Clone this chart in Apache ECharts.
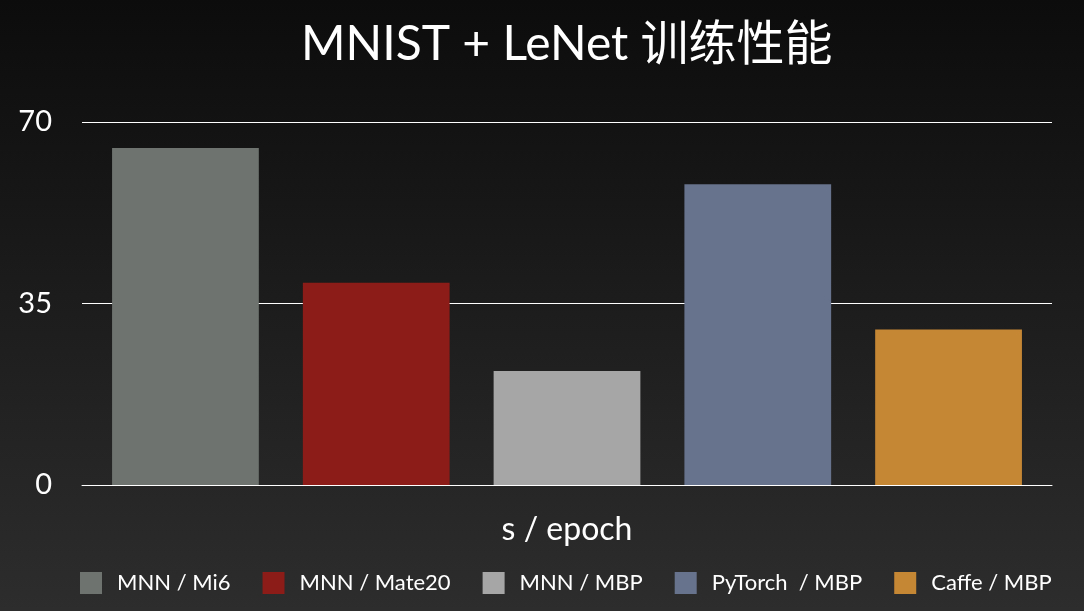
<!DOCTYPE html>
<html><head><meta charset="utf-8">
<script src="https://cdn.jsdelivr.net/npm/echarts@6/dist/echarts.min.js"></script>
<style>html,body{margin:0;padding:0;}#c{width:1084px;height:611px;}</style>
</head><body><div id="c"></div>
<script>
const categories = ['MNIST + LeNet'];
const seriesNames = ['MNN / Mi6', 'MNN / Mate20', 'MNN / MBP', 'PyTorch  / MBP', 'Caffe / MBP'];
const seriesValues = [65, 39, 22, 58, 30];
const colors = ['#6e7370', '#8b1c17', '#a6a6a6', '#67738c', '#c68735'];
const yTicks = [0, 35, 70];

const font = "Lato, 'Noto Sans CJK SC', sans-serif";
const chart = echarts.init(document.getElementById('c'));
chart.setOption({
  backgroundColor: new echarts.graphic.LinearGradient(0, 0, 0, 1, [
    {offset: 0, color: '#0c0c0c'}, {offset: 1, color: '#2d2d2d'}
  ]),
  title: {
    text: 'MNIST + LeNet 训练性能', left: 296, top: 16,
    textStyle: {color: '#ffffff', fontSize: 48, fontWeight: 'normal', fontFamily: font}
  },
  legend: {
    bottom: 12, left: 75, itemWidth: 22, itemHeight: 22, itemGap: 32,
    icon: 'rect',
    textStyle: {color: '#ffffff', fontSize: 22, fontFamily: font, padding: [0, 0, 0, 10]},
    data: seriesNames
  },
  grid: {left: 82, right: 32, top: 122, bottom: 126},
  xAxis: {
    type: 'category', data: categories,
    axisLine: {lineStyle: {color: '#ffffff', width: 1}},
    axisTick: {show: false}, axisLabel: {show: false},
    name: 's / epoch', nameLocation: 'middle', nameGap: 29,
    nameTextStyle: {color: '#ffffff', fontSize: 32, fontFamily: font}
  },
  yAxis: {
    type: 'value', min: yTicks[0], max: yTicks[2], interval: yTicks[1],
    axisLine: {show: false}, axisTick: {show: false},
    axisLabel: {color: '#ffffff', fontSize: 29, fontFamily: font, margin: 30},
    splitLine: {lineStyle: {color: '#ffffff', width: 1}}
  },
  series: seriesNames.map((n, i) => ({
    name: n, type: 'bar', data: [seriesValues[i]],
    itemStyle: {color: colors[i]},
    barGap: '30%', barCategoryGap: '6.2%'
  }))
});
</script></body></html>
